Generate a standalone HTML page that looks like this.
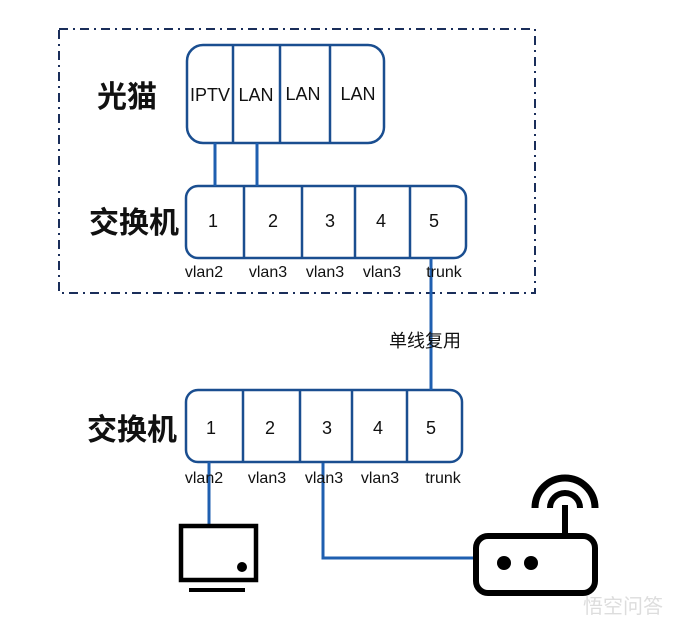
<!DOCTYPE html>
<html><head><meta charset="utf-8"><style>
html,body{margin:0;padding:0;background:#fff;}
svg{display:block}
</style></head><body>
<svg width="690" height="629" viewBox="0 0 690 629" xmlns="http://www.w3.org/2000/svg" font-family="Liberation Sans, Noto Sans CJK SC, sans-serif">
<rect x="59" y="29" width="476" height="264" fill="none" stroke="#1a2e5a" stroke-width="2" stroke-dasharray="9,5,2,5"/>
<g stroke="#1a4e90" stroke-width="2.5" fill="none">
<rect x="187" y="45" width="197" height="98" rx="16"/>
<line x1="233" y1="45" x2="233" y2="143"/><line x1="280" y1="45" x2="280" y2="143"/><line x1="330" y1="45" x2="330" y2="143"/>
<rect x="186" y="186" width="280" height="72" rx="12"/>
<line x1="244" y1="186" x2="244" y2="258"/><line x1="302" y1="186" x2="302" y2="258"/><line x1="355" y1="186" x2="355" y2="258"/><line x1="410" y1="186" x2="410" y2="258"/>
<rect x="186" y="390" width="276" height="72" rx="12"/>
<line x1="243" y1="390" x2="243" y2="462"/><line x1="300" y1="390" x2="300" y2="462"/><line x1="352" y1="390" x2="352" y2="462"/><line x1="407" y1="390" x2="407" y2="462"/>
</g>
<g stroke="#1f5fb0" stroke-width="3" fill="none">
<line x1="215" y1="143" x2="215" y2="186"/><line x1="257" y1="143" x2="257" y2="186"/>
<line x1="431" y1="258" x2="431" y2="390"/>
<line x1="209" y1="462" x2="209" y2="525"/>
<polyline points="323,463 323,558 476,558"/>
</g>
<g font-size="18" fill="#111" text-anchor="middle" font-weight="500">
<text x="210" y="101">IPTV</text><text x="256" y="101">LAN</text><text x="303" y="100">LAN</text><text x="358" y="100">LAN</text>
<text x="213" y="227">1</text><text x="273" y="227">2</text><text x="330" y="227">3</text><text x="381" y="227">4</text><text x="434" y="227">5</text>
<text x="211" y="434">1</text><text x="270" y="434">2</text><text x="327" y="434">3</text><text x="378" y="434">4</text><text x="431" y="434">5</text>
</g>
<g font-size="16" fill="#111" text-anchor="middle">
<text x="204" y="277">vlan2</text><text x="268" y="277">vlan3</text><text x="325" y="277">vlan3</text><text x="382" y="277">vlan3</text><text x="444" y="277">trunk</text>
<text x="204" y="483">vlan2</text><text x="267" y="483">vlan3</text><text x="324" y="483">vlan3</text><text x="380" y="483">vlan3</text><text x="443" y="483">trunk</text>
</g>
<g font-weight="bold" font-size="30" fill="#111" font-family="Liberation Sans, Noto Sans CJK SC, sans-serif">
<text x="97" y="107">光猫</text>
<text x="89" y="233">交换机</text>
<text x="87" y="440">交换机</text>
</g>
<text x="389" y="347" font-size="18" fill="#111" font-family="Liberation Sans, Noto Sans CJK SC, sans-serif">单线复用</text>
<g stroke="#000" fill="none">
<rect x="181" y="526" width="75" height="54" stroke-width="4.5"/>
<line x1="189" y1="590" x2="245" y2="590" stroke-width="4"/>
<rect x="476" y="536" width="119" height="57" rx="12" stroke-width="6"/>
<line x1="565" y1="505" x2="565" y2="534" stroke-width="6"/>
<path d="M535,508 A30,30 0 0 1 595,508" stroke-width="7"/>
<path d="M550,508 A15,15 0 0 1 580,508" stroke-width="6"/>
</g>
<g fill="#000">
<circle cx="242" cy="567" r="5"/>
<circle cx="504" cy="563" r="7"/><circle cx="531" cy="563" r="7"/>
</g>
<text x="583" y="613" font-size="20" fill="#ddd" font-family="Liberation Sans, Noto Sans CJK SC, sans-serif">悟空问答</text>
</svg>
</body></html>
